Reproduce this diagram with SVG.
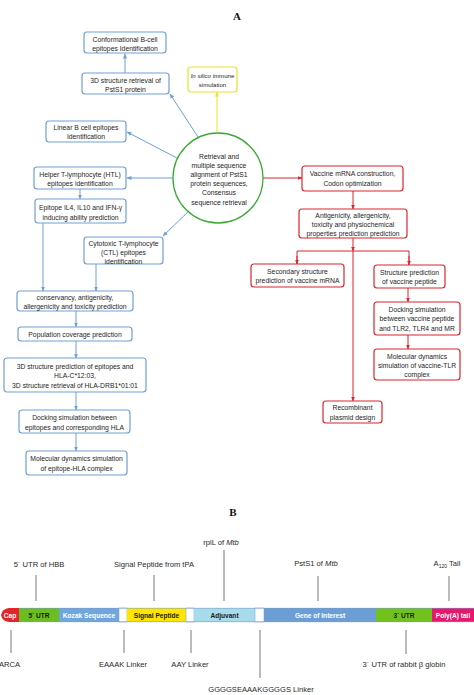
<svg xmlns="http://www.w3.org/2000/svg" width="474" height="695" viewBox="0 0 474 695">
<defs>
<style>
.t{font-family:"Liberation Sans",Arial,sans-serif;font-size:6.8px;fill:#1e1e1e;text-anchor:middle}
.b{fill:#fff;stroke:#6f9fd6;stroke-width:1.2}
.r{fill:#fff;stroke:#d9272e;stroke-width:1.2}
.y{fill:#fff;stroke:#ece22a;stroke-width:1.2}
.cb{stroke:#6f9fd6;stroke-width:1;fill:none}
.cr{stroke:#d9272e;stroke-width:1;fill:none}
.cy{stroke:#ece22a;stroke-width:1;fill:none}
.L{font-family:"Liberation Serif","Times New Roman",serif;font-weight:bold;font-size:11px;fill:#111;text-anchor:middle}
.lbl{font-family:"Liberation Sans",Arial,sans-serif;font-size:7.6px;fill:#2a2a2a;text-anchor:middle}
.bt{font-family:"Liberation Sans",Arial,sans-serif;font-size:6.6px;font-weight:bold;text-anchor:middle}
.gl{stroke:#777;stroke-width:1}
</style>
<marker id="ab" viewBox="0 0 10 10" refX="9" refY="5" markerWidth="5" markerHeight="5" orient="auto"><path d="M0,1L10,5L0,9z" fill="#6f9fd6"/></marker>
<marker id="ar" viewBox="0 0 10 10" refX="9" refY="5" markerWidth="5" markerHeight="5" orient="auto"><path d="M0,1L10,5L0,9z" fill="#d9272e"/></marker>
<marker id="ay" viewBox="0 0 10 10" refX="9" refY="5" markerWidth="5" markerHeight="5" orient="auto"><path d="M0,1L10,5L0,9z" fill="#ece22a"/></marker>
</defs>
<rect width="474" height="695" fill="#fff"/>
<text class="L" x="237" y="20">A</text>

<g id="connectors">
<line class="cb" x1="125" y1="73" x2="125" y2="54" marker-end="url(#ab)"/>
<line class="cb" x1="198" y1="137" x2="170" y2="94" marker-end="url(#ab)"/>
<line class="cb" x1="177" y1="158" x2="127" y2="132" marker-end="url(#ab)"/>
<line class="cb" x1="173" y1="178" x2="127" y2="178" marker-end="url(#ab)"/>
<line class="cb" x1="80" y1="189" x2="80" y2="199" marker-end="url(#ab)"/>
<line class="cb" x1="192" y1="208" x2="163" y2="236" marker-end="url(#ab)"/>
<line class="cb" x1="43" y1="223" x2="43" y2="291" marker-end="url(#ab)"/>
<line class="cb" x1="96" y1="264" x2="96" y2="291" marker-end="url(#ab)"/>
<line class="cb" x1="76" y1="311" x2="76" y2="327" marker-end="url(#ab)"/>
<line class="cb" x1="76" y1="341" x2="76" y2="358" marker-end="url(#ab)"/>
<line class="cb" x1="76" y1="392" x2="76" y2="410" marker-end="url(#ab)"/>
<line class="cb" x1="76" y1="433" x2="76" y2="451" marker-end="url(#ab)"/>
<line class="cy" x1="217" y1="133" x2="217" y2="92" marker-end="url(#ay)"/>
<line class="cr" x1="263" y1="178" x2="302" y2="178" marker-end="url(#ar)"/>
<line class="cr" x1="353" y1="191" x2="353" y2="209" marker-end="url(#ar)"/>
<line class="cr" x1="353" y1="238" x2="353" y2="251" marker-end="url(#ar)"/>
<line class="cr" x1="353" y1="251" x2="353" y2="401" marker-end="url(#ar)"/>
<polyline class="cr" points="297,264 297,251 409,251 409,265"/>
<line class="cr" x1="297" y1="256" x2="297" y2="264" marker-end="url(#ar)"/>
<line class="cr" x1="409" y1="256" x2="409" y2="265" marker-end="url(#ar)"/>
<line class="cr" x1="408" y1="288" x2="408" y2="302" marker-end="url(#ar)"/>
<line class="cr" x1="408" y1="335" x2="408" y2="349" marker-end="url(#ar)"/>
</g>

<g id="n-conf"><rect class="b" x="84" y="32" width="82" height="21" rx="3"/><text class="t" x="125" y="42">Conformational B-cell</text><text class="t" x="125" y="51">epitopes Identification</text></g>
<g id="n-3dret"><rect class="b" x="82" y="73" width="87" height="21" rx="3"/><text class="t" x="125.5" y="82.5">3D structure retrieval of</text><text class="t" x="125.5" y="91.5">PstS1 protein</text></g>
<g id="n-insilico"><rect class="y" x="188" y="67" width="49" height="25" rx="3"/><text class="t" x="212.5" y="77.5" style="font-size:6.1px"><tspan font-style="italic">In silico</tspan> immune</text><text class="t" x="212.5" y="86.5" style="font-size:6.1px">simulation</text></g>
<g id="n-linb"><rect class="b" x="46" y="121" width="80" height="21" rx="3"/><text class="t" x="86" y="130">Linear B cell epitopes</text><text class="t" x="86" y="139">Identification</text></g>
<g id="n-center"><circle cx="218" cy="178" r="45" fill="#fff" stroke="#3aaa35" stroke-width="1.3"/>
<text class="t" x="219" y="158.5">Retrieval and</text><text class="t" x="219" y="167.5">multiple sequence</text><text class="t" x="219" y="176.5">alignment of PstS1</text><text class="t" x="219" y="186">protein sequences,</text><text class="t" x="219" y="195">Consensus</text><text class="t" x="219" y="204.5">sequence retrieval</text></g>
<g id="n-htl"><rect class="b" x="34" y="167" width="92" height="22" rx="3"/><text class="t" x="80" y="176.5">Helper T-lymphocyte (HTL)</text><text class="t" x="80" y="185.5">epitopes identification</text></g>
<g id="n-il4"><rect class="b" x="35" y="199" width="91" height="24" rx="3"/><text class="t" x="80.5" y="209.5">Epitope IL4, IL10 and IFN-γ</text><text class="t" x="80.5" y="219.5">inducing ability prediction</text></g>
<g id="n-ctl"><rect class="b" x="84" y="237" width="79" height="27" rx="3"/><text class="t" x="123.5" y="246">Cytotoxic T-lymphocyte</text><text class="t" x="123.5" y="255">(CTL) epitopes</text><text class="t" x="123.5" y="263.5">identification</text></g>
<g id="n-cons"><rect class="b" x="17" y="291" width="116" height="20" rx="3"/><text class="t" x="75" y="299.5">conservancy, antigenicity,</text><text class="t" x="75" y="308.5">allergenicity and toxicity prediction</text></g>
<g id="n-pop"><rect class="b" x="18" y="327" width="114" height="14" rx="3"/><text class="t" x="75" y="336.5">Population coverage prediction</text></g>
<g id="n-3dpred"><rect class="b" x="4" y="358" width="142" height="34" rx="3"/><text class="t" x="75" y="368.5">3D structure prediction of epitopes and</text><text class="t" x="75" y="377.5">HLA-C*12:03,</text><text class="t" x="75" y="387.5">3D structure retrieval of HLA-DRB1*01:01</text></g>
<g id="n-dock"><rect class="b" x="19" y="410" width="111" height="23" rx="3"/><text class="t" x="74.5" y="419.5">Docking simulation between</text><text class="t" x="74.5" y="429.5">epitopes and corresponding HLA</text></g>
<g id="n-md"><rect class="b" x="26" y="451" width="101" height="24" rx="3"/><text class="t" x="76.5" y="460.5">Molecular dynamics simulation</text><text class="t" x="76.5" y="470.5">of epitope-HLA complex</text></g>

<g id="n-mrna"><rect class="r" x="302" y="166" width="101" height="25" rx="3"/><text class="t" x="352.5" y="176">Vaccine mRNA construction,</text><text class="t" x="352.5" y="185.5">Codon optimization</text></g>
<g id="n-antig"><rect class="r" x="299" y="209" width="108" height="29" rx="3"/><text class="t" x="353" y="217.5">Antigenicity, allergenicity,</text><text class="t" x="353" y="226.5">toxicity and physiochemical</text><text class="t" x="353" y="235.5">properties prediction prediction</text></g>
<g id="n-sec"><rect class="r" x="251" y="264" width="93" height="23" rx="3"/><text class="t" x="297.5" y="273.5">Secondary structure</text><text class="t" x="297.5" y="282.5">prediction of vaccine mRNA</text></g>
<g id="n-struct"><rect class="r" x="374" y="265" width="71" height="23" rx="3"/><text class="t" x="409.5" y="274.5">Structure prediction</text><text class="t" x="409.5" y="283.5">of vaccine peptide</text></g>
<g id="n-dockv"><rect class="r" x="374" y="302" width="86" height="33" rx="3"/><text class="t" x="417" y="311.5">Docking simulation</text><text class="t" x="417" y="320.5">between vaccine peptide</text><text class="t" x="417" y="330.5">and TLR2, TLR4 and MR</text></g>
<g id="n-mdv"><rect class="r" x="374" y="349" width="86" height="31" rx="3"/><text class="t" x="417" y="358.5">Molecular dynamics</text><text class="t" x="417" y="367.5">simulation of vaccine-TLR</text><text class="t" x="417" y="376.5">complex</text></g>
<g id="n-recomb"><rect class="r" x="323" y="401" width="59" height="22" rx="3"/><text class="t" x="352.5" y="409.5">Recombinant</text><text class="t" x="352.5" y="419.5">plasmid design</text></g>

<text class="L" x="233" y="516">B</text>

<g id="b-labels">
<text class="lbl" x="221" y="545">rplL of <tspan font-style="italic">Mtb</tspan></text>
<line class="gl" x1="224" y1="550" x2="224" y2="601"/>
<text class="lbl" x="39" y="567">5´ UTR of HBB</text>
<line class="gl" x1="36" y1="575" x2="36" y2="601"/>
<text class="lbl" x="154" y="567">Signal Peptide from tPA</text>
<line class="gl" x1="154" y1="575" x2="154" y2="601"/>
<text class="lbl" x="316" y="566">PstS1 of <tspan font-style="italic">Mtb</tspan></text>
<line class="gl" x1="318" y1="576" x2="318" y2="601"/>
<text class="lbl" x="447" y="566">A<tspan font-size="5" dy="2">120</tspan><tspan dy="-2"> Tail</tspan></text>
<line class="gl" x1="449" y1="576" x2="449" y2="601"/>
<line class="gl" x1="11" y1="630" x2="11" y2="653"/>
<text class="lbl" x="-1" y="667" style="text-anchor:start">ARCA</text>
<line class="gl" x1="124" y1="630" x2="124" y2="653"/>
<text class="lbl" x="123" y="667">EAAAK Linker</text>
<line class="gl" x1="191" y1="630" x2="191" y2="653"/>
<text class="lbl" x="190" y="667">AAY Linker</text>
<line class="gl" x1="260" y1="630" x2="260" y2="678"/>
<text class="lbl" x="261" y="692">GGGGSEAAAKGGGGS Linker</text>
<line class="gl" x1="406" y1="630" x2="406" y2="654"/>
<text class="lbl" x="404" y="667">3´ UTR of rabbit β globin</text>
</g>

<g id="b-bar">
<path d="M19,608 L9,608 Q2,609 1,615 Q2,621 9,622 L19,622 Z" fill="#e4242a"/>
<rect x="19" y="608" width="40" height="14" fill="#6cbd20"/>
<rect x="59" y="608" width="60" height="14" fill="#6fa6dc"/>
<rect x="119" y="608" width="8" height="14" fill="#fff" stroke="#8aa8c8" stroke-width="0.6"/>
<rect x="127" y="608" width="59" height="14" fill="#ffe500"/>
<rect x="186" y="608" width="8" height="14" fill="#fff" stroke="#8aa8c8" stroke-width="0.6"/>
<rect x="194" y="608" width="61" height="14" fill="#a7dcec"/>
<rect x="255" y="608" width="9" height="14" fill="#fff" stroke="#8aa8c8" stroke-width="0.6"/>
<rect x="264" y="608" width="112" height="14" fill="#6b9ed4"/>
<rect x="376" y="608" width="56" height="14" fill="#72c11c"/>
<rect x="432" y="608" width="42" height="14" fill="#e6176c"/>
<line x1="19" y1="608.3" x2="474" y2="608.3" stroke="#7a9cc4" stroke-width="0.6"/>
<line x1="19" y1="621.7" x2="474" y2="621.7" stroke="#7a9cc4" stroke-width="0.6"/>
<text class="bt" x="10" y="618" fill="#fff">Cap</text>
<text class="bt" x="39" y="618" fill="#1a1a1a">5´ UTR</text>
<text class="bt" x="89" y="618" fill="#fff">Kozak Sequence</text>
<text class="bt" x="156.5" y="618" fill="#1a1a1a">Signal Peptide</text>
<text class="bt" x="224.5" y="618" fill="#1a1a1a">Adjuvant</text>
<text class="bt" x="320" y="618" fill="#fff">Gene of Interest</text>
<text class="bt" x="404" y="618" fill="#1a1a1a">3´ UTR</text>
<text class="bt" x="453" y="618" fill="#fff">Poly(A) tail</text>
</g>
</svg>
